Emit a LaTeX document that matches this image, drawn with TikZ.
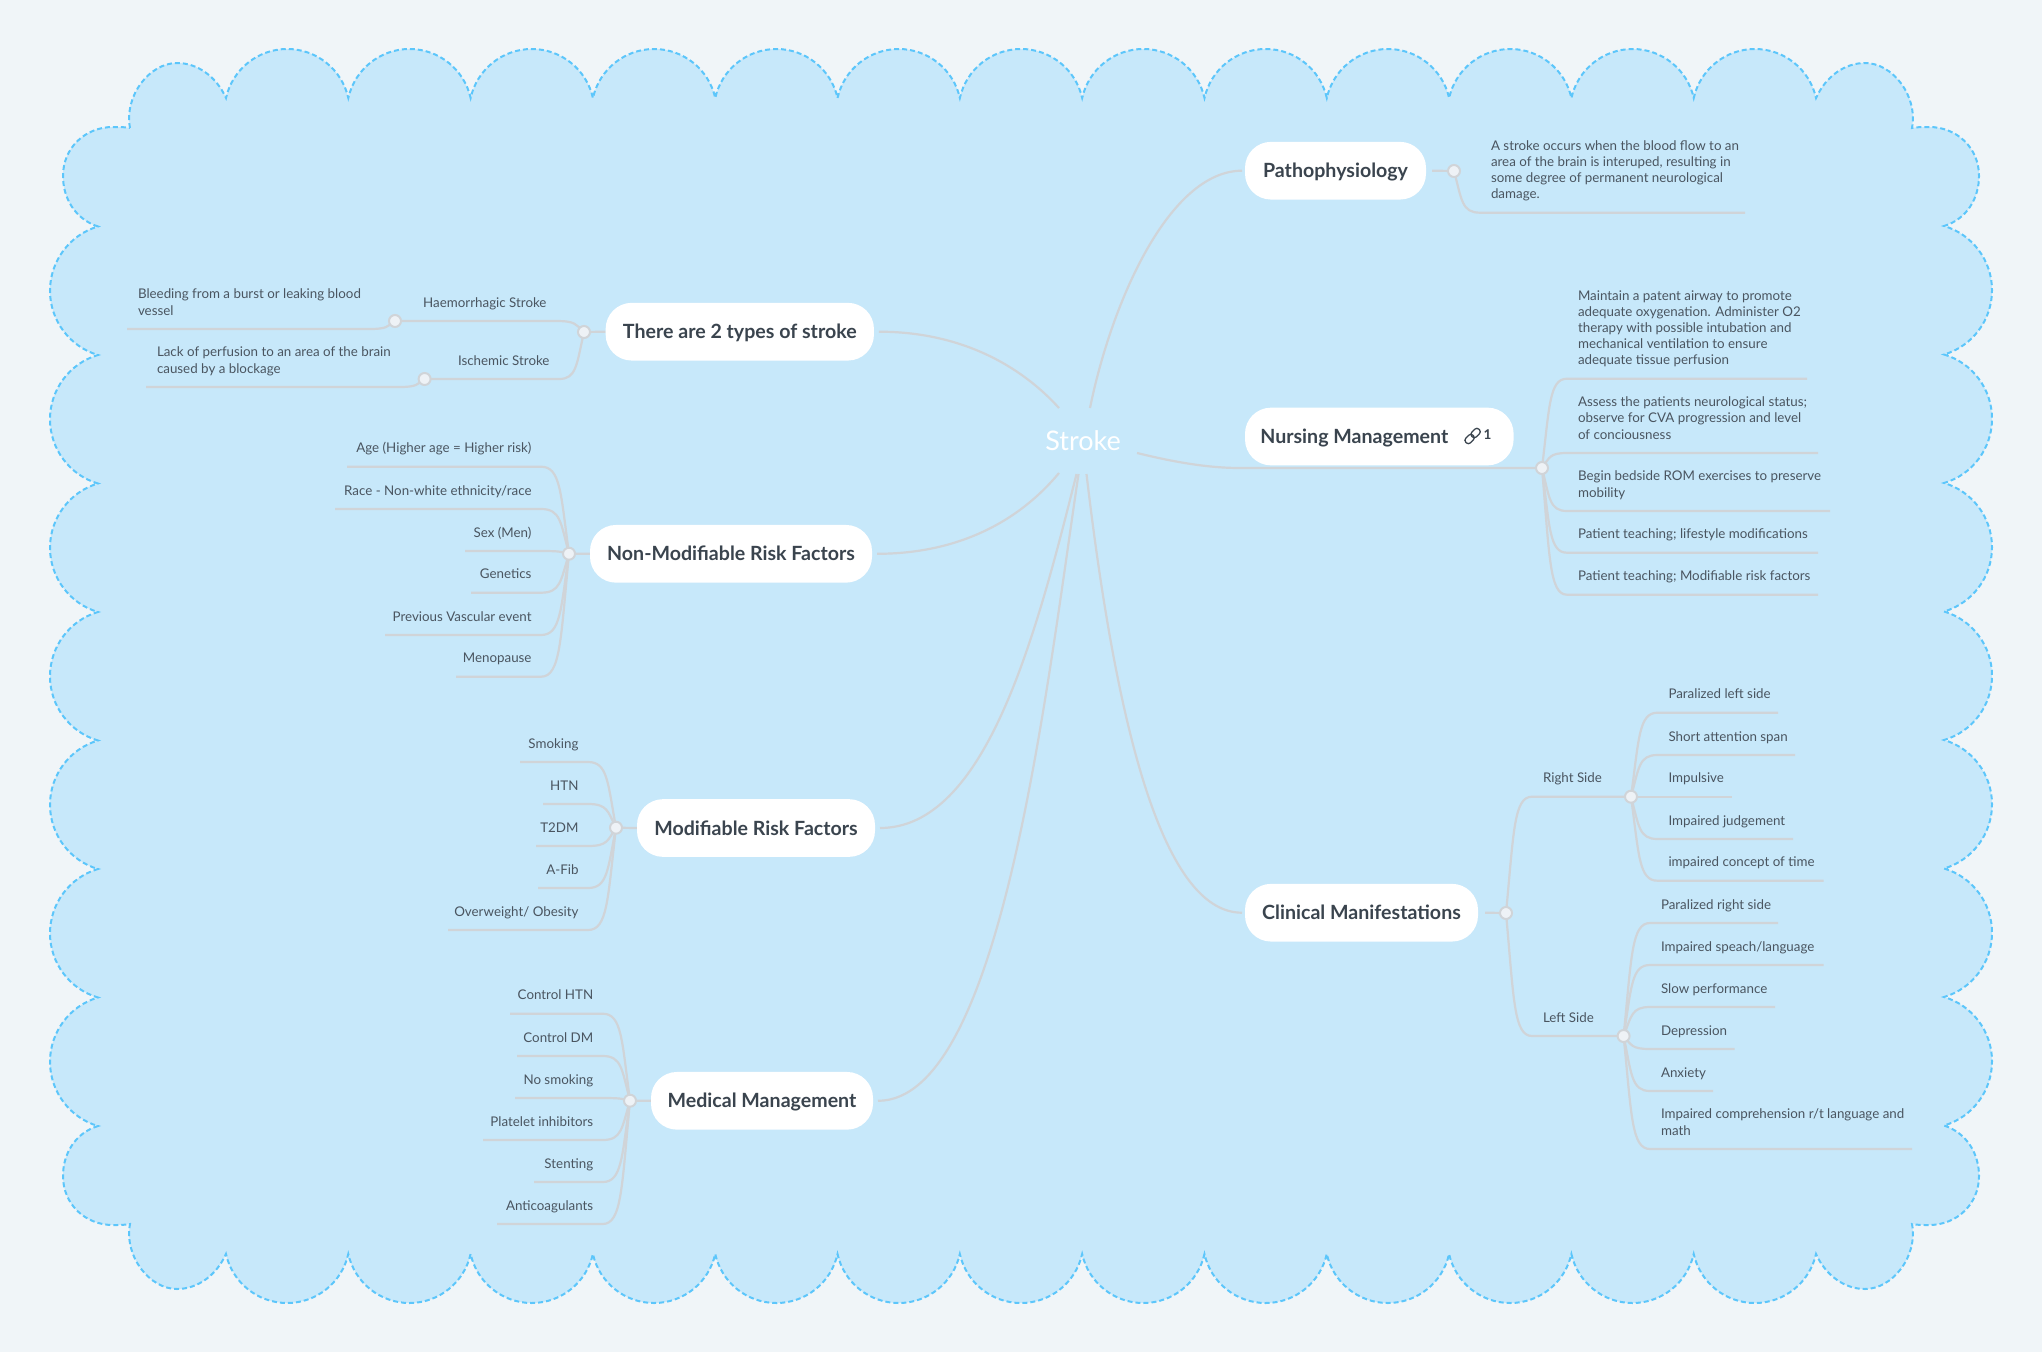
\documentclass[tikz,border=0pt]{standalone}
\usepackage{fontspec}
\setmainfont{Lato}
\usetikzlibrary{calc,backgrounds}
\definecolor{pagebg}{HTML}{F0F5F8}
\definecolor{cloudfill}{HTML}{C7E8FA}
\definecolor{cloudline}{HTML}{5CC6FB}
\definecolor{connc}{HTML}{D0D4D8}
\definecolor{juncfill}{HTML}{EEF2F6}
\definecolor{maintext}{HTML}{3A444E}
\definecolor{leaftext}{HTML}{4A5560}
\tikzset{
  conn/.style={draw=connc,line width=2.2pt},
  junc/.style={circle,draw=connc,fill=juncfill,line width=2pt,minimum size=12pt,inner sep=0pt,outer sep=0pt},
  mainbox/.style={fill=white,rounded corners=26pt,text=maintext,font=\fontsize{19.6}{24}\selectfont\bfseries,inner sep=0pt,outer sep=0pt,minimum height=57.7pt,text height=16pt,text depth=2pt},
  leaf/.style={text=leaftext,font=\fontsize{13.35}{16.2}\selectfont,inner ysep=9pt,outer sep=0pt},
  linkpart/.style={draw=maintext,rounded corners=2.8pt,line width=1.3pt,minimum width=10pt,minimum height=6.5pt,inner sep=0pt,outer sep=0pt},
}
\newcommand\rleaf[5]{\pgfmathsetmacro\tw{#3-#2-22}\node[leaf,inner xsep=11pt,anchor=south west] (#1) at (#2,#4) {\makebox[\tw pt][l]{\begin{tabular}[b]{@{}l@{}}#5\end{tabular}}};}
\newcommand\lleaf[5]{\pgfmathsetmacro\tw{#3-#2-19}\node[leaf,inner xsep=9.5pt,anchor=south east] (#1) at (#3,#4) {\makebox[\tw pt][r]{\begin{tabular}[b]{@{}r@{}}#5\end{tabular}}};}
\newcommand\rtwig[2]{\draw[conn] let \p1=(#1.center),\p2=(#2.south west) in (\p1) .. controls ({\x1+.3*(\x2-\x1)},{\y1+.7*(\y2-\y1)}) and ({\x1+.3*(\x2-\x1)},\y2) .. (\p2) -- (#2.south east);}
\newcommand\ltwig[2]{\draw[conn] let \p1=(#1.center),\p2=(#2.south east) in (\p1) .. controls ({\x1+.3*(\x2-\x1)},{\y1+.7*(\y2-\y1)}) and ({\x1+.3*(\x2-\x1)},\y2) .. (\p2) -- (#2.south west);}
\begin{document}
\begin{tikzpicture}[x=1pt,y=-1pt]
\useasboundingbox (0,0) rectangle (2042,1352);
% main topics
\node[text=white,font=\fontsize{27}{32}\selectfont] (stroke) at (1083,441) {Stroke};
\node[mainbox,minimum width=181pt] (nPath) at (1335.5,170.7) {Pathophysiology};
\node[mainbox,minimum width=268.6pt] (nNurs) at (1379.3,436.5) {Nursing Management\hspace*{50pt}};
\node[mainbox,minimum width=233pt] (nClin) at (1361.5,912.7) {Clinical Manifestations};
\node[mainbox,minimum width=268.3pt] (nType) at (739.8,331.7) {There are 2 types of stroke};
\node[mainbox,minimum width=282pt] (nNonm) at (731,553.8) {Non-Modifiable Risk Factors};
\node[mainbox,minimum width=238pt] (nModi) at (756,828) {Modifiable Risk Factors};
\node[mainbox,minimum width=222pt] (nMedi) at (762,1100.8) {Medical Management};
% link marker
\node[linkpart,rotate=45] (linkA) at (1469.6,439) {};
\node[linkpart,rotate=45] (linkB) at (1475.6,433) {};
\node[text=maintext,font=\fontsize{13.5}{16}\selectfont\bfseries,inner sep=0pt] (linkN) at (1487.5,435) {1};
% junctions
\node[junc] (jPath) at (1454,171) {};
\node[junc] (jNurs) at (1542,468) {};
\node[junc] (jClin) at (1506,913) {};
\node[junc] (jRight) at (1631,796.7) {};
\node[junc] (jLeft) at (1623.6,1036) {};
\node[junc] (jType) at (584,332) {};
\node[junc] (jHaem) at (395,321) {};
\node[junc] (jIsch) at (424.6,379) {};
\node[junc] (jNonm) at (569,553.7) {};
\node[junc] (jModi) at (616,827.7) {};
\node[junc] (jMedi) at (630,1100.7) {};
% leaves on the right
\rleaf{pA}{1480}{1745}{212.7}{A stroke occurs when the blood flow to an\\area of the brain is interuped, resulting in\\some degree of permanent neurological\\damage.}
\rleaf{nA}{1567}{1807}{378.7}{Maintain a patent airway to promote\\adequate oxygenation. Administer O2\\therapy with possible intubation and\\mechanical ventilation to ensure\\adequate tissue perfusion}
\rleaf{nB}{1567}{1818}{453}{Assess the patients neurological status;\\observe for CVA progression and level\\of conciousness}
\rleaf{nC}{1567}{1830}{511}{Begin bedside ROM exercises to preserve\\mobility}
\rleaf{nD}{1567}{1818}{552.7}{Patient teaching; lifestyle modifications}
\rleaf{nE}{1567}{1818}{594.7}{Patient teaching; Modifiable risk factors}
\rleaf{cR}{1532}{1631}{796.7}{Right Side}
\rleaf{cL}{1532}{1623.6}{1036}{Left Side}
\rleaf{rA}{1657.5}{1778}{712.7}{Paralized left side}
\rleaf{rB}{1657.5}{1795}{755}{Short attention span}
\rleaf{rC}{1657.5}{1731.5}{796.7}{Impulsive}
\rleaf{rD}{1657.5}{1793}{839}{Impaired judgement}
\rleaf{rE}{1657.5}{1823.6}{880.7}{impaired concept of time}
\rleaf{lA}{1650}{1778}{923}{Paralized right side}
\rleaf{lB}{1650}{1823.6}{965}{Impaired speach/language}
\rleaf{lC}{1650}{1775}{1007}{Slow performance}
\rleaf{lD}{1650}{1734.5}{1049}{Depression}
\rleaf{lE}{1650}{1713}{1091}{Anxiety}
\rleaf{lF}{1650}{1912}{1149}{Impaired comprehension r/t language and\\math}
% leaves on the left
\lleaf{tH}{395}{556}{321}{Haemorrhagic Stroke}
\lleaf{tI}{424.6}{559}{379}{Ischemic Stroke}
\rleaf{tB}{127}{369}{329}{Bleeding from a burst or leaking blood\\vessel}
\rleaf{tL}{146}{399}{387}{Lack of perfusion to an area of the brain\\caused by a blockage}
\lleaf{fA}{347}{541}{466.7}{Age (Higher age = Higher risk)}
\lleaf{fB}{335}{541}{509}{Race - Non-white ethnicity/race}
\lleaf{fC}{465}{541}{551}{Sex (Men)}
\lleaf{fD}{471}{541}{592.7}{Genetics}
\lleaf{fE}{385}{541}{635}{Previous Vascular event}
\lleaf{fF}{456}{541}{676.7}{Menopause}
\lleaf{mA}{520}{588}{762}{Smoking}
\lleaf{mB}{543}{588}{804}{HTN}
\lleaf{mC}{536}{588}{846}{T2DM}
\lleaf{mD}{538}{588}{888}{A-Fib}
\lleaf{mE}{448}{588}{930}{Overweight/ Obesity}
\lleaf{dA}{510}{602.7}{1013.7}{Control HTN}
\lleaf{dB}{517}{602.7}{1056}{Control DM}
\lleaf{dC}{515}{602.7}{1098}{No smoking}
\lleaf{dD}{483}{602.7}{1140}{Platelet inhibitors}
\lleaf{dE}{534}{602.7}{1182}{Stenting}
\lleaf{dF}{497}{602.7}{1224}{Anticoagulants}
% free ends near the central topic
\coordinate (sPath) at (1090,408);
\coordinate (sNurs) at (1137,453);
\coordinate (sType) at (1059,408);
\coordinate (sNonm) at (1059,473);
\coordinate (sModi) at (1076.5,474);
\coordinate (sMedi) at (1078.5,474);
\coordinate (sClin) at (1086.5,474);
\begin{pgfonlayer}{background}
\fill[pagebg] (0,0) rectangle (2042,1352);
\path[fill=cloudfill,draw=cloudline,line width=2pt,dash pattern=on 5pt off 3pt]
  (130,128) .. controls (124,95) and (150,63) .. (177,63) .. controls (197,63) and (216,76) .. (226,98)
  foreach \i in {0,...,12} {
    .. controls ({226+122.31*\i+6.4},69.4) and ({226+122.31*\i+31.85},49) .. ({226+122.31*\i+61.15},49)
    .. controls ({226+122.31*\i+90.45},49) and ({226+122.31*\i+115.9},69.4) .. ({226+122.31*\i+122.31},98)
  }
  .. controls (1826,76) and (1845,63) .. (1865,63) .. controls (1892,63) and (1918,95) .. (1912,128)
  .. controls (1917,127) and (1923,127) .. (1929,127) .. controls (1957,127) and (1979,148) .. (1979,176)
  .. controls (1979,198) and (1967,219) .. (1944,226)
  foreach \j in {0,...,6} {
    .. controls (1972.4,{226+128.5*\j+8.3}) and (1992,{226+128.5*\j+34.65}) .. (1992,{226+128.5*\j+64.25})
    .. controls (1992,{226+128.5*\j+93.85}) and (1972.4,{226+128.5*\j+120.2}) .. (1944,{226+128.5*\j+128.5})
  }
  .. controls (1967,1133) and (1979,1154) .. (1979,1176) .. controls (1979,1204) and (1957,1225) .. (1929,1225)
  .. controls (1923,1225) and (1917,1225) .. (1912,1224) .. controls (1918,1257) and (1892,1289) .. (1865,1289)
  .. controls (1845,1289) and (1826,1276) .. (1816,1254)
  foreach \i in {0,...,12} {
    .. controls ({1816-122.31*\i-6.4},1282.6) and ({1816-122.31*\i-31.85},1303) .. ({1816-122.31*\i-61.15},1303)
    .. controls ({1816-122.31*\i-90.45},1303) and ({1816-122.31*\i-115.9},1282.6) .. ({1816-122.31*\i-122.31},1254)
  }
  .. controls (216,1276) and (197,1289) .. (177,1289) .. controls (150,1289) and (124,1257) .. (130,1224)
  .. controls (125,1225) and (119,1225) .. (113,1225) .. controls (85,1225) and (63,1204) .. (63,1176)
  .. controls (63,1154) and (75,1133) .. (98,1126)
  foreach \j in {0,...,6} {
    .. controls (69.6,{1126-128.5*\j-8.3}) and (50,{1126-128.5*\j-34.65}) .. (50,{1126-128.5*\j-64.25})
    .. controls (50,{1126-128.5*\j-93.85}) and (69.6,{1126-128.5*\j-120.2}) .. (98,{1126-128.5*\j-128.5})
  }
  .. controls (75,219) and (63,198) .. (63,176) .. controls (63,148) and (85,127) .. (113,127)
  .. controls (119,127) and (125,127) .. (130,128) -- cycle;
% centre to main topics
\draw[conn] (sPath) .. controls (1112,300) and (1170,170.7) .. ([xshift=-3pt]nPath.west);
\draw[conn] (sNurs) .. controls (1170,461) and (1205,468) .. (1240,468) -- (jNurs);
\draw[conn] (sClin) .. controls (1120,760) and (1170,912.7) .. ([xshift=-3pt]nClin.west);
\draw[conn] (sType) .. controls (1020,365) and (960,331.7) .. ([xshift=5pt]nType.east);
\draw[conn] (sNonm) .. controls (1020,520) and (960,553.8) .. ([xshift=5pt]nNonm.east);
\draw[conn] (sModi) .. controls (1035,640) and (985,828) .. ([xshift=5pt]nModi.east);
\draw[conn] (sMedi) .. controls (1045,700) and (1000,1100.8) .. ([xshift=5pt]nMedi.east);
% stubs
\draw[conn] ([xshift=6pt]nPath.east) -- (jPath);
\draw[conn] ([xshift=7pt]nClin.east) -- (jClin);
\draw[conn] (nType.west) -- (jType);
\draw[conn] (nNonm.west) -- (jNonm);
\draw[conn] (nModi.west) -- (jModi);
\draw[conn] (nMedi.west) -- (jMedi);
% twigs
\rtwig{jPath}{pA}
\foreach \lf in {nA,nB,nC,nD,nE} {\rtwig{jNurs}{\lf}}
\rtwig{jClin}{cR}
\rtwig{jClin}{cL}
\foreach \lf in {rA,rB,rC,rD,rE} {\rtwig{jRight}{\lf}}
\foreach \lf in {lA,lB,lC,lD,lE,lF} {\rtwig{jLeft}{\lf}}
\ltwig{jType}{tH}
\ltwig{jType}{tI}
\ltwig{jHaem}{tB}
\ltwig{jIsch}{tL}
\foreach \lf in {fA,fB,fC,fD,fE,fF} {\ltwig{jNonm}{\lf}}
\foreach \lf in {mA,mB,mC,mD,mE} {\ltwig{jModi}{\lf}}
\foreach \lf in {dA,dB,dC,dD,dE,dF} {\ltwig{jMedi}{\lf}}
\end{pgfonlayer}
\end{tikzpicture}
\end{document}
